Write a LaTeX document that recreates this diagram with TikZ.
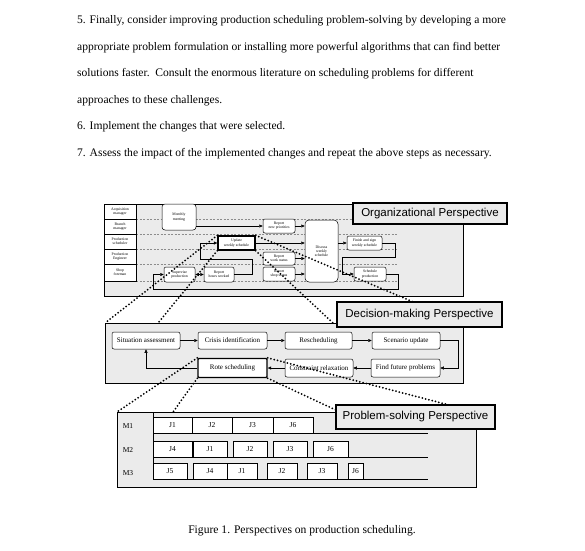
\documentclass[tikz,border=0pt]{standalone}
\usepackage{fontspec}
\setmainfont{Liberation Serif}
\newfontfamily\perspfont{Liberation Sans}
\usetikzlibrary{arrows.meta}

\tikzset{
  region/.style={draw, fill=black!8, line width=0.7pt},
  role/.style={draw, fill=white, minimum width=32pt, minimum height=15pt, inner sep=0pt, align=center, line width=0.5pt, font=\fontsize{3.8}{4.2}\selectfont},
  act/.style={draw, fill=white, rounded corners=2pt, inner sep=0pt, align=center, line width=0.5pt, font=\fontsize{3.8}{4.2}\selectfont},
  decbox/.style={draw, fill=white, rounded corners=2pt, minimum height=17pt, inner sep=0pt, align=center, line width=0.5pt, font=\fontsize{7}{8}\selectfont},
  job/.style={draw, fill=white, minimum height=16pt, inner sep=0pt, line width=0.5pt, font=\fontsize{7.5}{8}\selectfont},
  persp/.style={draw, fill=black!8, line width=1.6pt, inner sep=0pt, font=\perspfont\fontsize{11.5}{13}\selectfont},
  arr/.style={-{Triangle[length=3.5pt,width=3pt]}, line width=0.5pt},
  zoomline/.style={line width=2pt, dash pattern=on 0pt off 3.4pt, line cap=round},
  rowline/.style={black!45, dash pattern=on 2pt off 1.5pt, line width=0.4pt},
  para/.style={anchor=base west, inner sep=0pt, font=\fontsize{11.55}{13}\selectfont}
}

\begin{document}
\begin{tikzpicture}[x=1pt, y=-1pt]

        \useasboundingbox (0,0) rectangle (585,550);

        % Text above the figure
        \node[para] (s5a) at (77,23) {5. Finally, consider improving production scheduling problem-solving by developing a more};
        \node[para] (s5b) at (77,50) {appropriate problem formulation or installing more powerful algorithms that can find better};
        \node[para] (s5c) at (77,76) {solutions faster.\ \ Consult the enormous literature on scheduling problems for different};
        \node[para] (s5d) at (77,103) {approaches to these challenges.};
        \node[para] (s6) at (77,129) {6. Implement the changes that were selected.};
        \node[para] (s7) at (77,156) {7. Assess the impact of the implemented changes and repeat the above steps as necessary.};

        % Organizational region
        \draw[region] (104,204) rectangle (463,296);
        \foreach \yy in {219,234,249,264,281}
            \draw[rowline] (136,\yy) -- (398,\yy);

        % Roles
        \node[role] (acq) at (120,211.5) {Acquisition\\manager};
        \node[role] (branch) at (120,226.5) {Branch\\manager};
        \node[role] (sched) at (120,241.5) {Production\\scheduler};
        \node[role] (eng) at (120,256.5) {Production\\Engineer};
        \node[role, minimum height=17pt] (shop) at (120,272.5) {Shop\\foreman};

        % Activities
        \node[act, rounded corners=3pt, minimum width=34pt, minimum height=26pt] (meeting) at (179,217) {Monthly\\meeting};
        \node[act, minimum width=32pt, minimum height=14pt] (newpri) at (279,226) {Report\\new priorities};
        \node[act, rounded corners=0pt, line width=1.3pt, minimum width=37pt, minimum height=14pt] (update) at (236.5,243) {Update\\weekly schedule};
        \node[act, rounded corners=4pt, minimum width=33pt, minimum height=62pt] (discuss) at (321.5,251) {Discuss\\weekly\\schedule};
        \node[act, minimum width=35pt, minimum height=14pt] (finish) at (364.5,243) {Finish and sign\\weekly schedule};
        \node[act, minimum width=32pt, minimum height=13pt] (workst) at (279,258.5) {Report\\work status};
        \node[act, minimum width=32pt, minimum height=14pt] (shopst) at (279,274) {Report\\shop status};
        \node[act, minimum width=31pt, minimum height=15pt] (supervise) at (179.5,274.5) {Supervise\\production};
        \node[act, minimum width=30pt, minimum height=15pt] (hours) at (219,274.5) {Report\\hours worked};
        \node[act, minimum width=32pt, minimum height=14pt] (schedprod) at (370,274) {Schedule\\production};

        % Organizational flows
        \draw[arr] (meeting.east |- newpri.west) -- (newpri.west);
        \draw[arr] (newpri.east) -- (discuss.west |- newpri.east);
        \draw[arr] (update.east) -- (discuss.west |- update.east);
        \draw[arr] (workst.east) -- (discuss.west |- workst.east);
        \draw[arr] (shopst.east) -- (discuss.west |- shopst.east);
        \draw[arr] (discuss.east |- finish.west) -- (finish.west);
        \draw[arr] (finish.east) -- (395,243) -- (395,257) -- (342,257) |- (schedprod.west);
        \draw[arr] (schedprod.east) -- (398,274) -- (398,289) -- (153,289) |- (supervise.west);
        \draw[{Triangle[length=3.5pt,width=3pt]}-{Triangle[length=3.5pt,width=3pt]}, line width=0.5pt] (supervise.east) -- (hours.west);
        \draw[arr] (hours.east) -- (252,274.5) -- (252,259) -- (200,259) |- (update.west);

        % Decision-making region
        \draw[region] (105,323) rectangle (463,383);
        \coordinate (dec nw) at (105,323);
        \coordinate (dec ne) at (463,323);
        \coordinate (dec a) at (158,323);
        \coordinate (dec b) at (333,323);

        \node[decbox, minimum width=68pt] (sa) at (146,340.5) {Situation assessment};
        \node[decbox, minimum width=69pt] (ci) at (232.5,340.5) {Crisis identification};
        \node[decbox, minimum width=67pt] (resch) at (318.5,340.5) {Rescheduling};
        \node[decbox, minimum width=68pt] (su) at (406,340.5) {Scenario update};
        \node[decbox, minimum width=69pt, minimum height=18pt] (ffp) at (405.5,368) {Find future problems};
        \node[decbox, minimum width=68pt, minimum height=18pt] (cr) at (319,368) {Constraint relaxation};
        \node[decbox, rounded corners=1pt, line width=1.3pt, minimum width=69pt, minimum height=19pt] (rote) at (232.5,368) {Rote scheduling};

        % Decision-making flows
        \draw[arr] (sa) -- (ci);
        \draw[arr] (ci) -- (resch);
        \draw[arr] (resch) -- (su);
        \draw[arr] (su.east) -- (458,340.5) |- (ffp.east);
        \draw[arr] (ffp) -- (cr);
        \draw[arr] (cr) -- (rote);
        \draw[arr] (rote.west) -| (sa.south);

        % Problem-solving region
        \draw[region] (117,412) rectangle (476,487);
        \coordinate (gnt nw) at (117,412);
        \coordinate (gnt ne) at (476,412);
        \coordinate (gnt a) at (173,412);
        \coordinate (gnt b) at (340,412);
        \draw[line width=0.5pt] (153,412) -- (153,480);
        \foreach \yy in {433,457,479}
            \draw[line width=0.5pt] (153,\yy) -- (428,\yy);

        \node[font=\fontsize{7.5}{8}\selectfont] (m1) at (128,426) {M1};
        \node[font=\fontsize{7.5}{8}\selectfont] (m2) at (128,450) {M2};
        \node[font=\fontsize{7.5}{8}\selectfont] (m3) at (128,473) {M3};

        % Machine 1
        \node[job, minimum width=39pt] (m1j1) at (172.5,425) {J1};
        \node[job, minimum width=40pt] (m1j2) at (212,425) {J2};
        \node[job, minimum width=41pt] (m1j3) at (252.5,425) {J3};
        \node[job, minimum width=40pt] (m1j6) at (293,425) {J6};

        % Machine 2
        \node[job, minimum width=39pt] (m2j4) at (172.5,449) {J4};
        \node[job, minimum width=34pt] (m2j1) at (210,449) {J1};
        \node[job, minimum width=34pt] (m2j2) at (250,449) {J2};
        \node[job, minimum width=34pt] (m2j3) at (290,449) {J3};
        \node[job, minimum width=35pt] (m2j6) at (330.5,449) {J6};

        % Machine 3
        \node[job, minimum width=34pt] (m3j5) at (170,471) {J5};
        \node[job, minimum width=34pt] (m3j4) at (210,471) {J4};
        \node[job, minimum width=30pt] (m3j1) at (242,471) {J1};
        \node[job, minimum width=30pt] (m3j2) at (282,471) {J2};
        \node[job, minimum width=30pt] (m3j3) at (322,471) {J3};
        \node[job, minimum width=15pt] (m3j6) at (355.5,471) {J6};

        % Zoom lines
        \draw[zoomline] (update.north west) -- (dec nw);
        \draw[zoomline] (update.south west) -- (dec a);
        \draw[zoomline] (update.north east) -- (dec ne);
        \draw[zoomline] (update.south east) -- (dec b);
        \draw[zoomline] (rote.north west) -- (gnt nw);
        \draw[zoomline] (rote.south west) -- (gnt a);
        \draw[zoomline] (rote.north east) -- (gnt ne);
        \draw[zoomline] (rote.south east) -- (gnt b);

        % Perspective labels
        \node[persp, minimum width=154pt, minimum height=21pt] (orgp) at (430,213.5) {Organizational Perspective};
        \node[persp, minimum width=165pt, minimum height=25pt] (decp) at (419.5,314.5) {Decision-making Perspective};
        \node[persp, minimum width=159pt, minimum height=24pt] (probp) at (415.5,417) {Problem-solving Perspective};

        % Caption
        \node[anchor=base, inner sep=0pt, font=\fontsize{11.6}{13}\selectfont] (cap) at (302,533) {Figure 1. Perspectives on production scheduling.};

    \end{tikzpicture}
\end{document}
